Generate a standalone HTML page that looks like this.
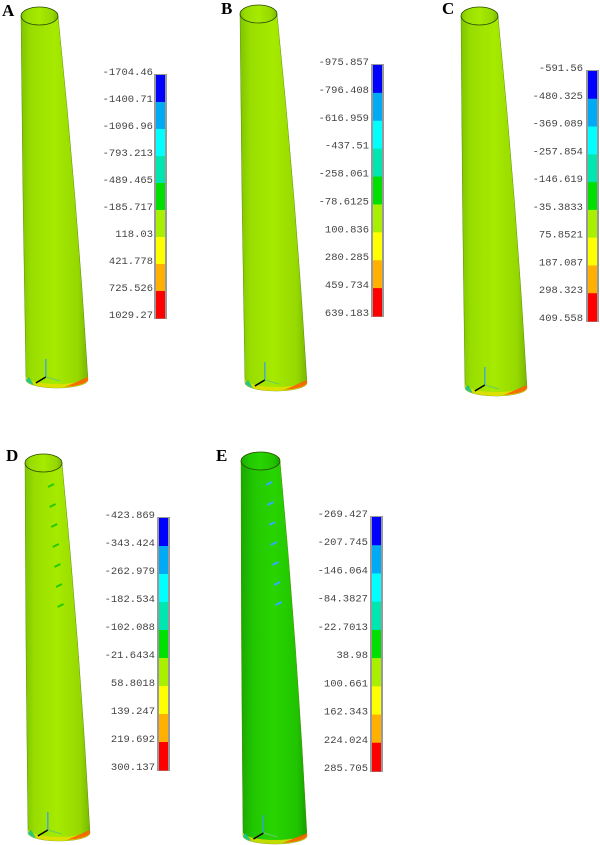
<!DOCTYPE html>
<html><head><meta charset="utf-8"><style>
html,body{margin:0;padding:0;background:#fff;}
svg{display:block;}
.lbl{font-family:"Liberation Mono",monospace;font-size:10.5px;fill:#444;}
.pl{font-family:"Liberation Serif",serif;font-weight:bold;font-size:17px;fill:#000;}
</style></head><body>
<svg id="fig" width="600" height="845" viewBox="0 0 600 845" xmlns="http://www.w3.org/2000/svg">
<defs>
<linearGradient id="gYG" x1="0" x2="1" y1="0" y2="0">
<stop offset="0" stop-color="#7fc400"/><stop offset="0.15" stop-color="#99dd00"/><stop offset="0.5" stop-color="#a6ea00"/><stop offset="0.85" stop-color="#96d800"/><stop offset="1" stop-color="#78b800"/>
</linearGradient>
<linearGradient id="gG" x1="0" x2="1" y1="0" y2="0">
<stop offset="0" stop-color="#1aa800"/><stop offset="0.2" stop-color="#22c800"/><stop offset="0.5" stop-color="#28d400"/><stop offset="0.85" stop-color="#20c400"/><stop offset="1" stop-color="#17a000"/>
</linearGradient>
</defs>
</svg>
<script>
const bandColors = ["#0000ff","#00aaf5","#00ffff","#00e6b0","#00e000","#a8f000","#ffff00","#ffb000","#ff0000"];
const labelsA = ["-1704.46","-1400.71","-1096.96","-793.213","-489.465","-185.717","118.03","421.778","725.526","1029.27"];
const labelsB = ["-975.857","-796.408","-616.959","-437.51","-258.061","-78.6125","100.836","280.285","459.734","639.183"];
const labelsC = ["-591.56","-480.325","-369.089","-257.854","-146.619","-35.3833","75.8521","187.087","298.323","409.558"];
const labelsD = ["-423.869","-343.424","-262.979","-182.534","-102.088","-21.6434","58.8018","139.247","219.692","300.137"];
const labelsE = ["-269.427","-207.745","-146.064","-84.3827","-22.7013","38.98","100.661","162.343","224.024","285.705"];

const NS="http://www.w3.org/2000/svg";
const svg=document.getElementById('fig');
function mk(t,a,p){const e=document.createElementNS(NS,t);for(const k in a)e.setAttribute(k,a[k]);(p||svg).appendChild(e);return e;}

const panels=[
 {id:"a",L:"A",lx:2,ly:16,t:[21,58,16],b:[26,88,380],cb:[155,75,318],lr:153,labels:labelsA,fill:"url(#gYG)",marks:false},
 {id:"b",L:"B",lx:221,ly:14,t:[240,277,14],b:[245,307,383],cb:[372,65,316],lr:369,labels:labelsB,fill:"url(#gYG)",marks:false},
 {id:"c",L:"C",lx:442,ly:14,t:[461,498,16],b:[465,527,388],cb:[587,71,321],lr:583,labels:labelsC,fill:"url(#gYG)",marks:false},
 {id:"d",L:"D",lx:6,ly:461,t:[25,62,463],b:[28,90,833],cb:[158,518,770],lr:155,labels:labelsD,fill:"url(#gYG)",marks:"#22cc00"},
 {id:"e",L:"E",lx:216,ly:461,t:[241,280,461],b:[243,307,836],cb:[371,517,771],lr:368,labels:labelsE,fill:"url(#gG)",marks:"#33aaff"}
];

panels.forEach(p=>{
 const g=mk('g',{});
 
 
 const lt=mk('text',{x:p.lx,y:p.ly,class:'pl'},g);lt.textContent=p.L;
 
 
 const [tx1,tx2,ty]=p.t,[bx1,bx2,by]=p.b;
 const ry=9, bry=8;
 const tower=mk('g',{},g);
 
 
 const mx=(tx2+bx2)/2+4,my=(ty+by)/2;
 const lmx=(tx1+bx1)/2-1;
 const d=`M${tx1},${ty} Q${lmx},${my} ${bx1},${by} A${(bx2-bx1)/2},${bry} 0 0 0 ${bx2},${by} Q${mx},${my} ${tx2},${ty} Z`;
 mk('path',{d:d,fill:p.fill,stroke:'#4a7a00','stroke-width':0.4},tower);
 // bottom contour band
 const bcx=(bx1+bx2)/2,brx=(bx2-bx1)/2;
 mk('path',{d:`M${bx1},${by} A${brx},${bry} 0 0 0 ${bx2},${by} L${bx2},${by-4} A${brx},${bry} 0 0 1 ${bx1},${by-4}Z`,fill:'#e8e000',opacity:0.8},tower);
 mk('path',{d:`M${bcx+8},${by+bry-1} A${brx},${bry} 0 0 0 ${bx2},${by} L${bx2},${by-3} Z`,fill:'#ff5000',opacity:0.8},tower);
 mk('path',{d:`M${bx1},${by} A${brx},${bry} 0 0 0 ${bx1+8},${by+5} L${bx1+3},${by-3}Z`,fill:'#00c0a0',opacity:0.8},tower);
 // top opening
 const tcx=(tx1+tx2)/2,trx=(tx2-tx1)/2;
 mk('ellipse',{cx:tcx,cy:ty,rx:trx,ry:ry,fill:p.fill,stroke:'#2a4a00','stroke-width':0.8},tower);
 // axis triad
 const ax=bx1+(bx2-bx1)*0.32,ay=by-3;
 mk('line',{x1:ax,y1:ay,x2:ax,y2:ay-18,stroke:'#3399ff','stroke-width':1.2},tower);
 mk('line',{x1:ax,y1:ay,x2:ax-10,y2:ay+6,stroke:'#000','stroke-width':1.5},tower);
 mk('line',{x1:ax,y1:ay,x2:ax+14,y2:ay+4,stroke:'#66cc66','stroke-width':1},tower);
 if(p.marks){
  for(let i=0;i<7;i++){
   const yy=ty+22+i*20, xx=tx2-14+i*1.6;
   mk('line',{x1:xx,y1:yy+2,x2:xx+6,y2:yy-1,stroke:p.marks,'stroke-width':2},tower);
  }
 }
 // colorbar
 const [cx,cy0,cy1]=p.cb;
 const n=bandColors.length, h=(cy1-cy0)/n;
 const cb=mk('g',{},g);
 
 
 mk('rect',{x:cx-1,y:cy0-1,width:13,height:cy1-cy0+2,fill:'#999'},cb);
 bandColors.forEach((c,i)=>{
  const r=mk('rect',{x:cx+1,y:cy0+i*h,width:9,height:h+0.5,fill:c},cb);
  
  
 });
 p.labels.forEach((s,i)=>{
  const t=mk('text',{x:p.lr,y:cy0+i*h,class:'lbl','text-anchor':'end'},cb);
  t.textContent=s;
  
  
 });
});
</script>
</body></html>
